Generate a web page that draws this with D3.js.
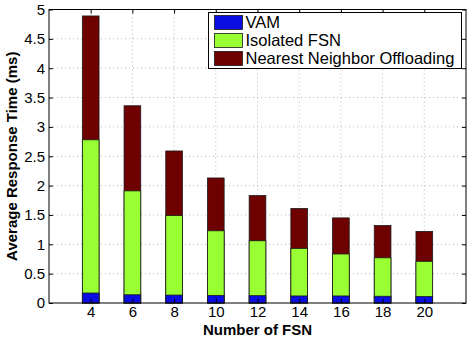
<!DOCTYPE html>
<html><head><meta charset="utf-8">
<script src="https://cdn.jsdelivr.net/npm/d3@7/dist/d3.min.js"></script>
<style>body{margin:0;background:#fff;}svg{display:block;font-family:"Liberation Sans",Arial,sans-serif;}</style>
</head><body><svg id="c" width="474" height="338"></svg>
<script>
const categories = [4, 6, 8, 10, 12, 14, 16, 18, 20];
const vam = [0.17, 0.14, 0.135, 0.13, 0.125, 0.12, 0.12, 0.115, 0.11];
const isolated = [2.78, 1.91, 1.49, 1.23, 1.06, 0.93, 0.835, 0.77, 0.71];
const nearest = [4.89, 3.36, 2.59, 2.13, 1.83, 1.61, 1.45, 1.32, 1.22];
const seriesNames = ["VAM", "Isolated FSN", "Nearest Neighbor Offloading"];
const seriesColors = ["#0a0ee0", "#99ff33", "#6e0000"];
const yTicks = [0, 0.5, 1, 1.5, 2, 2.5, 3, 3.5, 4, 4.5, 5];
const yTickLabels = ["0", "0.5", "1", "1.5", "2", "2.5", "3", "3.5", "4", "4.5", "5"];

const svg = d3.select("#c");
const L = 49, R = 466, T = 9.5, B = 303;
const x = d3.scaleLinear().domain([2, 22]).range([L, R]);
const y = d3.scaleLinear().domain([0, 5]).range([B, T]);
const barW = x(2.8) - x(2);

// grid
const g = svg.append("g");
g.selectAll(".hg").data(yTicks.slice(1, -1)).enter().append("line")
  .attr("x1", L).attr("x2", R).attr("y1", d => y(d)).attr("y2", d => y(d))
  .attr("stroke", "#b8b8b8").attr("stroke-width", 1).attr("stroke-dasharray", "1,3");
g.selectAll(".vg").data(categories).enter().append("line")
  .attr("y1", T).attr("y2", B).attr("x1", d => x(d)).attr("x2", d => x(d))
  .attr("stroke", "#b8b8b8").attr("stroke-width", 1).attr("stroke-dasharray", "1,3");

// bars: overlapping, drawn back to front
const layers = [nearest, isolated, vam];
const layerColors = [seriesColors[2], seriesColors[1], seriesColors[0]];
layers.forEach((vals, li) => {
  svg.append("g").selectAll("rect").data(vals).enter().append("rect")
    .attr("x", (d, i) => x(categories[i]) - barW / 2)
    .attr("width", barW)
    .attr("y", d => y(d))
    .attr("height", d => y(0) - y(d))
    .attr("fill", layerColors[li])
    .attr("stroke", "#1a1a1a").attr("stroke-width", 0.8);
});

// axes
const xAxis = d3.axisBottom(x).tickValues(categories).tickSize(-4).tickPadding(3).tickFormat(d3.format("d"));
const xa = svg.append("g").attr("transform", `translate(0,${B})`).call(xAxis);
const xt = svg.append("g").attr("transform", `translate(0,${T})`).call(d3.axisTop(x).tickValues(categories).tickSize(-4).tickFormat(""));
const yAxis = d3.axisLeft(y).tickValues(yTicks).tickSize(-4).tickPadding(4).tickFormat((d, i) => yTickLabels[i]);
const ya = svg.append("g").attr("transform", `translate(${L},0)`).call(yAxis);
const yr = svg.append("g").attr("transform", `translate(${R},0)`).call(d3.axisRight(y).tickValues(yTicks).tickSize(-4).tickFormat(""));
[xa, xt, ya, yr].forEach(a => {
  a.select(".domain").remove();
  a.selectAll("line").attr("stroke", "#000");
  a.selectAll("text").attr("font-size", 15).attr("fill", "#000").attr("font-family", '"Liberation Sans",Arial,sans-serif');
});
svg.append("rect").attr("x", L).attr("y", T).attr("width", R - L).attr("height", B - T)
  .attr("fill", "none").attr("stroke", "#000").attr("stroke-width", 1);

// axis titles
svg.append("text").attr("x", (x(2) + x(22)) / 2).attr("y", 334.5).attr("text-anchor", "middle")
  .attr("font-size", 15).attr("font-weight", "bold").text("Number of FSN");
svg.append("text").attr("transform", `translate(17,${(T + B) / 2}) rotate(-90)`).attr("text-anchor", "middle")
  .attr("font-size", 15).attr("font-weight", "bold").text("Average Response Time (ms)");

// legend
const lg = svg.append("g").attr("transform", "translate(208.5,12.5)");
lg.append("rect").attr("width", 253).attr("height", 56).attr("fill", "#fff").attr("stroke", "#000").attr("stroke-width", 1);
seriesNames.forEach((n, i) => {
  lg.append("rect").attr("x", 6).attr("y", 3 + i * 18).attr("width", 28).attr("height", 14)
    .attr("fill", seriesColors[i]).attr("stroke", "#1a1a1a").attr("stroke-width", 0.8);
  lg.append("text").attr("x", 37).attr("y", 10 + i * 18).attr("dy", "0.35em")
    .attr("font-size", 16.5).text(n);
});
</script></body></html>
